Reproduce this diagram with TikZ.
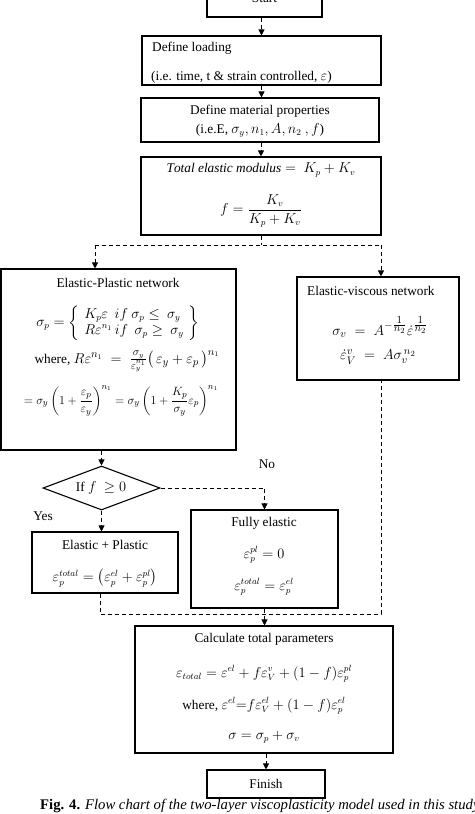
\documentclass[tikz,border=0pt]{standalone}
\usepackage{amsmath}
\usepackage{fontspec}
\setmainfont{Liberation Serif}
\usetikzlibrary{arrows.meta,shapes.geometric}
\begin{document}
\begin{tikzpicture}[x=1pt,y=-1pt,
  font=\fontsize{13.3}{16}\selectfont,
  box/.style={draw, line width=1.1pt, inner sep=0pt},
  txt/.style={inner sep=0pt},
  bigmath/.style={font=\fontsize{15.5}{18}\selectfont},
  dline/.style={line width=0.9pt, dash pattern=on 4pt off 3pt},
  conn/.style={dline, -{Triangle[length=6pt,width=6pt]}}]
\useasboundingbox (0,0) rectangle (474,814);
% boxes
\node[box, minimum width=115pt, minimum height=37pt] (start) at (264.5,-1.5) {Start};
\node[box, minimum width=239pt, minimum height=49pt] (load) at (261.5,60.5) {};
\node[box, minimum width=238pt, minimum height=44pt] (mat) at (260,120) {};
\node[box, minimum width=240pt, minimum height=78pt] (mod) at (261,196) {};
\node[box, minimum width=235pt, minimum height=181pt] (ep) at (118.5,359.5) {};
\node[box, minimum width=162pt, minimum height=103pt] (ev) at (378,328.5) {};
\node[draw, line width=1.1pt, diamond, inner sep=0pt, minimum width=117pt, minimum height=44pt] (dia) at (101.5,488) {};
\node[box, minimum width=146pt, minimum height=61pt] (eplas) at (105,562.5) {};
\node[box, minimum width=147pt, minimum height=98pt] (full) at (264.5,559) {};
\node[box, minimum width=258pt, minimum height=127pt] (calc) at (264,689.5) {};
\node[box, minimum width=118pt, minimum height=28pt] (fin) at (266,784) {Finish};
% texts
\node[txt, anchor=west] (loadA) at (152,48) {Define loading};
\node[txt, anchor=west] (loadB) at (151,77) {(i.e. time, t \& strain controlled, $\varepsilon$)};
\node[txt] (matA) at (260,111) {Define material properties};
\node[txt] (matB) at (260,130) {(i.e.E, $\sigma_y, n_1, A, n_2\ , f$)};
\node[txt] (modA) at (261,170) {$\mathit{Total\ elastic\ modulus} =\ K_p + K_v$};
\node[txt] (modB) at (261,211) {$f = \dfrac{K_v}{K_p+K_v}$};
\node[txt] (epA) at (118,283) {Elastic-Plastic network};
\node[txt] (epB) at (118,323) {$\sigma_p = \left\{\begin{array}{l} K_p\varepsilon\ \ if\ \sigma_p \le\ \sigma_y \\ R\varepsilon^{n_1}\, if\ \ \sigma_p \ge\ \sigma_y \end{array}\right\}$};
\node[txt] (epC) at (127,361) {where, {\fontsize{15}{18}\selectfont$R\varepsilon^{n_1} \;=\; \frac{\sigma_y}{\varepsilon_y^{n_1}}\bigl(\,\varepsilon_y+\varepsilon_p\,\bigr)^{n_1}$}};
\node[txt, font=\fontsize{12.9}{15}\selectfont] (epD) at (121,401) {$= \sigma_y\left(1+\dfrac{\varepsilon_p}{\varepsilon_y}\right)^{n_1} = \sigma_y\left(1+\dfrac{K_p}{\sigma_y}\varepsilon_p\right)^{n_1}$};
\node[txt, anchor=west] (evA) at (307,291) {Elastic-viscous network};
\node[txt, bigmath] (evB) at (380,327) {$\sigma_v \;=\; A^{-\frac{\scriptstyle 1}{\scriptstyle n_2}}\dot{\varepsilon}^{\frac{\scriptstyle 1}{\scriptstyle n_2}}$};
\node[txt, bigmath] (evC) at (378,357) {$\dot{\varepsilon}_V^{v} \;=\; A\sigma_v^{\,n_2}$};
\node[txt] (diaT) at (101,488) {If $f\ \geq 0$};
\node[txt] (no) at (267,464) {No};
\node[txt] (yes) at (43,516) {Yes};
\node[txt] (eplA) at (105,545) {Elastic + Plastic};
\node[txt] (eplB) at (105,578) {$\varepsilon_p^{total} = \big(\varepsilon_p^{el} + \varepsilon_p^{pl}\big)$};
\node[txt] (fullA) at (264,523) {Fully elastic};
\node[txt] (fullB) at (264,555) {$\varepsilon_p^{pl} = 0$};
\node[txt] (fullC) at (264,587) {$\varepsilon_p^{total} = \varepsilon_p^{el}$};
\node[txt] (calcA) at (264,639) {Calculate total parameters};
\node[txt] (calcB) at (264,674) {$\varepsilon_{total} = \varepsilon^{el} + f\varepsilon_V^{v} + (1-f)\varepsilon_p^{pl}$};
\node[txt] (calcC) at (264,706) {where, $\varepsilon^{el}{=}f\varepsilon_V^{el} + (1-f)\varepsilon_p^{el}$};
\node[txt] (calcD) at (264,737) {$\sigma = \sigma_p + \sigma_v$};
\node[txt, anchor=west, font=\fontsize{14.7}{17}\selectfont] (cap) at (40,806) {\textbf{Fig. 4.} \textit{Flow chart of the two-layer viscoplasticity model used in this study}};
% connectors
\coordinate (sl) at (95,245);
\coordinate (sr) at (381,245);
\coordinate (ml) at (100,614);
\coordinate (mr) at (381,614);
\draw[conn] (start.south -| load.north) -- (load.north);
\draw[conn] (load.south) -- (load.south |- mat.north);
\draw[conn] (mat.south -| mod.north) -- (mod.north);
\draw[dline] (mod.south) -- (mod.south |- sl);
\draw[dline] (sl) -- (sr);
\draw[conn] (sl) -- (sl |- ep.north);
\draw[conn] (sr) -- (sr |- ev.north);
\draw[conn] (dia.north |- ep.south) -- (dia.north);
\draw[conn] (dia.east) -| (full.north);
\draw[conn] (dia.south) -- (dia.south |- eplas.north);
\draw[dline] (ml |- eplas.south) -- (ml) -- (mr) -- (mr |- ev.south);
\draw[conn] (full.south) -- (full.south |- calc.north);
\draw[conn] (fin.north |- calc.south) -- (fin.north);
\end{tikzpicture}
\end{document}
